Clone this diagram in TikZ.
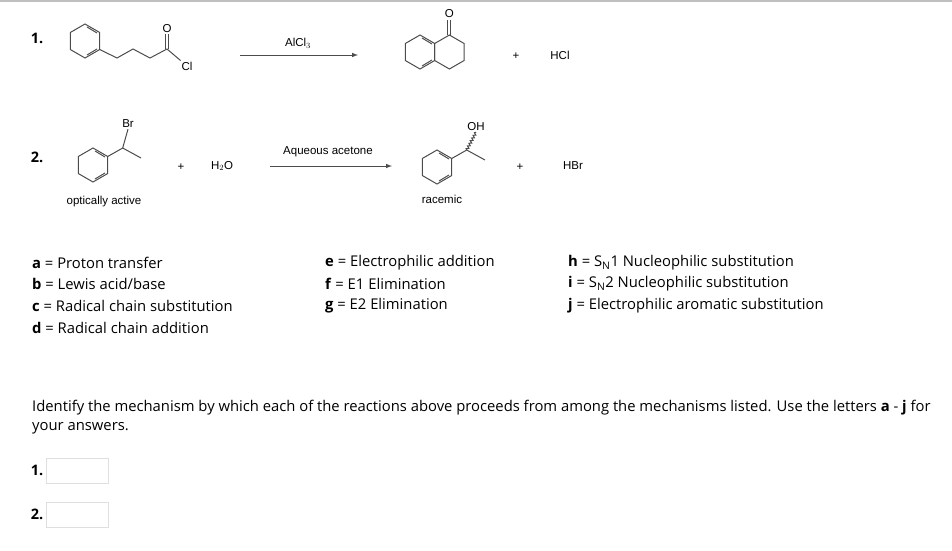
\documentclass[tikz,border=0pt]{standalone}
\usepackage{fontspec}
\setmainfont{Open Sans}
\newfontfamily\chem{Liberation Sans}
\usetikzlibrary{decorations.pathmorphing}
\begin{document}
\begin{tikzpicture}[x=1pt,y=-1pt,
  bond/.style={line width=1pt,gray!60!black},
  ch/.style={font=\chem\fontsize{11.5}{13}\selectfont,inner sep=1pt},
  lst/.style={anchor=west,font=\fontsize{14.8}{17}\selectfont,inner sep=0pt},
  num/.style={font=\bfseries\fontsize{14.5}{17}\selectfont,inner sep=0pt},
  arr/.style={line width=1pt,gray!60!black,-latex},
  box/.style={draw=gray!25,line width=1pt,minimum width=62pt,minimum height=25pt,inner sep=0pt}]
\useasboundingbox (0,0) rectangle (952,550);
\fill[gray!50] (0,0) rectangle (952,2);
\newcommand{\hexa}[3]{% center x,y, r
  \draw[bond] (#1,#2)++(90:#3) -- ++(-30:#3) -- ++(-90:#3) -- ++(-150:#3) -- ++(150:#3) -- ++(90:#3) -- cycle;}
% reaction 1
\node[num] (n1) at (37,38) {1.};
\hexa{85}{41}{17}
\draw[bond] (70.3,36) -- (70.3,46);
\draw[bond] (87,27) -- (97,33);
\draw[bond] (87,55) -- (97,49);
\coordinate (r1) at (99.7,49.5);
\coordinate (c1) at (117,58);
\coordinate (c2) at (133,49);
\coordinate (c3) at (150,58);
\coordinate (c4) at (167,49);
\node[ch] (o1) at (167,29) {O};
\node[ch] (cl1) at (187,66) {Cl};
\draw[bond] (r1) -- (c1) -- (c2) -- (c3) -- (c4) -- (cl1);
\draw[bond] ([xshift=-1.5]c4) -- ([xshift=-1.5]o1.south);
\draw[bond] ([xshift=1.5]c4) -- ([xshift=1.5]o1.south);
\coordinate (a1s) at (240,55); \coordinate (a1e) at (358,55);
\draw[arr] (a1s) -- (a1e);
\node[ch] (alcl) at (298,43) {AlCl$_3$};
\hexa{420}{52}{17}
\hexa{449.4}{52}{17}
\draw[bond] (405.8,47) -- (405.8,57);
\draw[bond] (422,38) -- (432,44);
\draw[bond] (422,66) -- (432,60);
\node[ch] (o2) at (449.4,14) {O};
\draw[bond] (447.9,35) -- (447.9,20);
\draw[bond] (450.9,35) -- (450.9,20);
\node[ch] (p1) at (516,56) {+};
\node[ch] (hcl) at (560,55) {HCl};
% reaction 2
\node[num] (n2) at (37,157) {2.};
\hexa{93}{165}{17}
\draw[bond] (78.3,160) -- (78.3,170);
\draw[bond] (95,151) -- (105,157);
\draw[bond] (95,179) -- (105,173);
\coordinate (ch1) at (122.7,148);
\node[ch] (br) at (128,124) {Br};
\draw[bond] (107.7,156.5) -- (ch1) -- (br.south);
\draw[bond] (ch1) -- (141,158);
\node[ch] (p2) at (181,167) {+};
\node[ch] (h2o) at (222,166) {H$_2$O};
\coordinate (a2s) at (270,166); \coordinate (a2e) at (392,166);
\draw[arr] (a2s) -- (a2e);
\node[ch] (aq) at (328,152) {Aqueous acetone};
\node[ch] (oa) at (104,202) {optically active};
\hexa{437}{167}{17}
\draw[bond] (422.3,162) -- (422.3,172);
\draw[bond] (439,153) -- (449,159);
\draw[bond] (439,181) -- (449,175);
\coordinate (ch2) at (466.7,150);
\node[ch] (oh) at (476,127) {OH};
\draw[bond] (451.7,158.5) -- (ch2) -- (485,160);
\draw[bond,decorate,decoration={snake,amplitude=1.2pt,segment length=3pt}] (ch2) -- (oh.south);
\node[ch] (rac) at (442,199) {racemic};
\node[ch] (p3) at (520,167) {+};
\node[ch] (hbr) at (573,166) {HBr};
% list
\node[lst] (la) at (32,263) {\textbf{a} = Proton transfer};
\node[lst] (lb) at (32,284) {\textbf{b} = Lewis acid/base};
\node[lst] (lc) at (32,306) {\textbf{c} = Radical chain substitution};
\node[lst] (ld) at (32,328) {\textbf{d} = Radical chain addition};
\node[lst] (le) at (325,263) {\textbf{e} = Electrophilic addition};
\node[lst] (lf) at (325,284) {\textbf{f} = E1 Elimination};
\node[lst] (lg) at (325,306) {\textbf{g} = E2 Elimination};
\node[lst] (lh) at (568,263) {\textbf{h} = S$_{\mathrm N}$1 Nucleophilic substitution};
\node[lst] (li) at (568,284) {\textbf{i} = S$_{\mathrm N}$2 Nucleophilic substitution};
\node[lst] (lj) at (568,306) {\textbf{j} = Electrophilic aromatic substitution};
\node[lst] (q1) at (32,408) {Identify the mechanism by which each of the reactions above proceeds from among the mechanisms listed. Use the letters \textbf{a} - \textbf{j} for};
\node[lst] (q2) at (32,428) {your answers.};
\node[num] (b1n) at (37,470) {1.};
\node[box] (b1) at (77,471) {};
\node[num] (b2n) at (37,514) {2.};
\node[box] (b2) at (77,515) {};
\end{tikzpicture}
\end{document}
